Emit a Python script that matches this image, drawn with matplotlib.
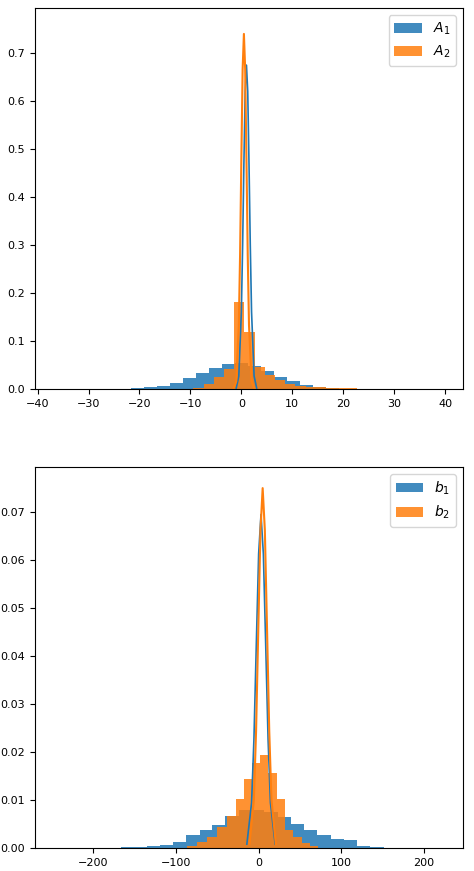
import numpy as np
import matplotlib
matplotlib.use('Agg')
import matplotlib.pyplot as plt

# --- top panel: A1 / A2 histograms (bin edges + densities)
a1_edges = [-37.0, -34.4, -31.9, -29.3, -26.8, -24.2, -21.7, -19.1, -16.6, -14.0, -11.5, -8.9,
            -6.4, -3.8, -1.3, 1.3, 3.8, 6.4, 8.9, 11.5, 14.0, 16.6, 19.1, 21.7, 24.2, 26.8, 29.3]
a1_dens = [0.0003, 0.0003, 0.0003, 0.0004, 0.0005, 0.0008, 0.002, 0.004, 0.007, 0.012, 0.023,
           0.033, 0.044, 0.053, 0.055, 0.048, 0.038, 0.025, 0.017, 0.008, 0.004, 0.002, 0.001,
           0.0006, 0.0004, 0.0003]
a2_edges = [-9.4, -7.4, -5.4, -3.4, -1.4, 0.5, 2.6, 4.6, 6.6, 8.6, 10.6, 12.6, 14.6, 16.6,
            18.6, 20.6, 22.6, 24.6, 26.6, 28.6, 30.6, 32.6, 34.6, 36.6, 38.6, 40.6]
a2_dens = [0.003, 0.01, 0.025, 0.042, 0.182, 0.119, 0.045, 0.03, 0.018, 0.01, 0.007, 0.005,
           0.004, 0.003, 0.002, 0.0015, 0.001, 0.0008, 0.0006, 0.0005, 0.0004, 0.0003, 0.0003,
           0.0002, 0.0002]
a1_curve_x = [-1.0, -0.5, 0.0, 0.25, 0.5, 0.75, 1.0, 1.25, 1.5, 1.75, 2.0, 2.5, 3.0]
a1_curve_y = [0.002, 0.027, 0.161, 0.30, 0.47, 0.62, 0.675, 0.62, 0.47, 0.30, 0.161, 0.027, 0.002]
a2_curve_x = [-1.5, -1.0, -0.5, -0.25, 0.0, 0.25, 0.5, 0.75, 1.0, 1.25, 1.5, 2.0, 2.5]
a2_curve_y = [0.002, 0.016, 0.133, 0.28, 0.48, 0.666, 0.74, 0.666, 0.48, 0.28, 0.133, 0.016, 0.002]

# --- bottom panel: b1 / b2
b1_edges = [-246, -230, -214, -198, -182, -166, -150, -135, -119, -103, -88, -71, -56, -40,
            -24, -9, 7, 23, 39, 55, 71, 87, 103, 119, 135, 151, 167, 183, 199, 215, 231]
b1_dens = [0.0001, 0.0001, 0.0001, 0.0001, 0.0001, 0.0002, 0.0003, 0.0004, 0.0006, 0.0013,
           0.0027, 0.0037, 0.0048, 0.0067, 0.008, 0.008, 0.0076, 0.0064, 0.0051, 0.0038,
           0.0027, 0.0018, 0.0016, 0.0005, 0.0002, 0.0001, 0.0001, 0.0001, 0.0001, 0.0001]
b2_edges = [-86, -74, -62, -50, -38, -27, -18, -8, 2, 12, 22, 32, 42, 52, 62, 72]
b2_dens = [0.0004, 0.0012, 0.0023, 0.0043, 0.0066, 0.0103, 0.0144, 0.0177, 0.0194, 0.0157,
           0.0103, 0.0038, 0.0022, 0.001, 0.0004]
b1_curve_x = [-14.1, -8.4, -5.55, -2.7, 0.15, 3.0, 5.85, 8.7, 11.55, 14.4, 20.1]
b1_curve_y = [0.0008, 0.0094, 0.0226, 0.0422, 0.0613, 0.0695, 0.0613, 0.0422, 0.0226, 0.0094, 0.0008]
b2_curve_x = [-10.9, -5.6, -2.95, -0.3, 2.35, 5.0, 7.65, 10.3, 12.95, 15.6, 20.9]
b2_curve_y = [0.0008, 0.0101, 0.0244, 0.0455, 0.0662, 0.075, 0.0662, 0.0455, 0.0244, 0.0101, 0.0008]


def draw_hist(ax, edges, dens, color, label):
    edges = np.array(edges)
    ax.bar(edges[:-1], dens, width=np.diff(edges), align='edge', color=color,
           alpha=0.85, label=label, linewidth=0)


fig = plt.figure(figsize=(4.74, 8.71), dpi=100)
ax1 = fig.add_axes([35 / 474, 1 - 389 / 871, 428 / 474, 381 / 871])
ax2 = fig.add_axes([35 / 474, 1 - 848 / 871, 428 / 474, 381 / 871])

draw_hist(ax1, a1_edges, a1_dens, 'C0', '$A_1$')
draw_hist(ax1, a2_edges, a2_dens, 'C1', '$A_2$')
ax1.plot(a1_curve_x, a1_curve_y, color='C0', lw=1.2)
ax1.plot(a2_curve_x, a2_curve_y, color='C1', lw=1.5)
ax1.set_xlim(-40.5, 43.5)
ax1.set_ylim(0, 0.794)
ax1.legend(loc='upper right')

draw_hist(ax2, b1_edges, b1_dens, 'C0', '$b_1$')
draw_hist(ax2, b2_edges, b2_dens, 'C1', '$b_2$')
ax2.plot(b1_curve_x, b1_curve_y, color='C0', lw=1.2)
ax2.plot(b2_curve_x, b2_curve_y, color='C1', lw=1.5)
ax2.set_xlim(-270, 247)
ax2.set_ylim(0, 0.0794)
ax2.legend(loc='upper right')

for ax in (ax1, ax2):
    ax.tick_params(labelsize=8)

fig.savefig('out.png', dpi=100)
